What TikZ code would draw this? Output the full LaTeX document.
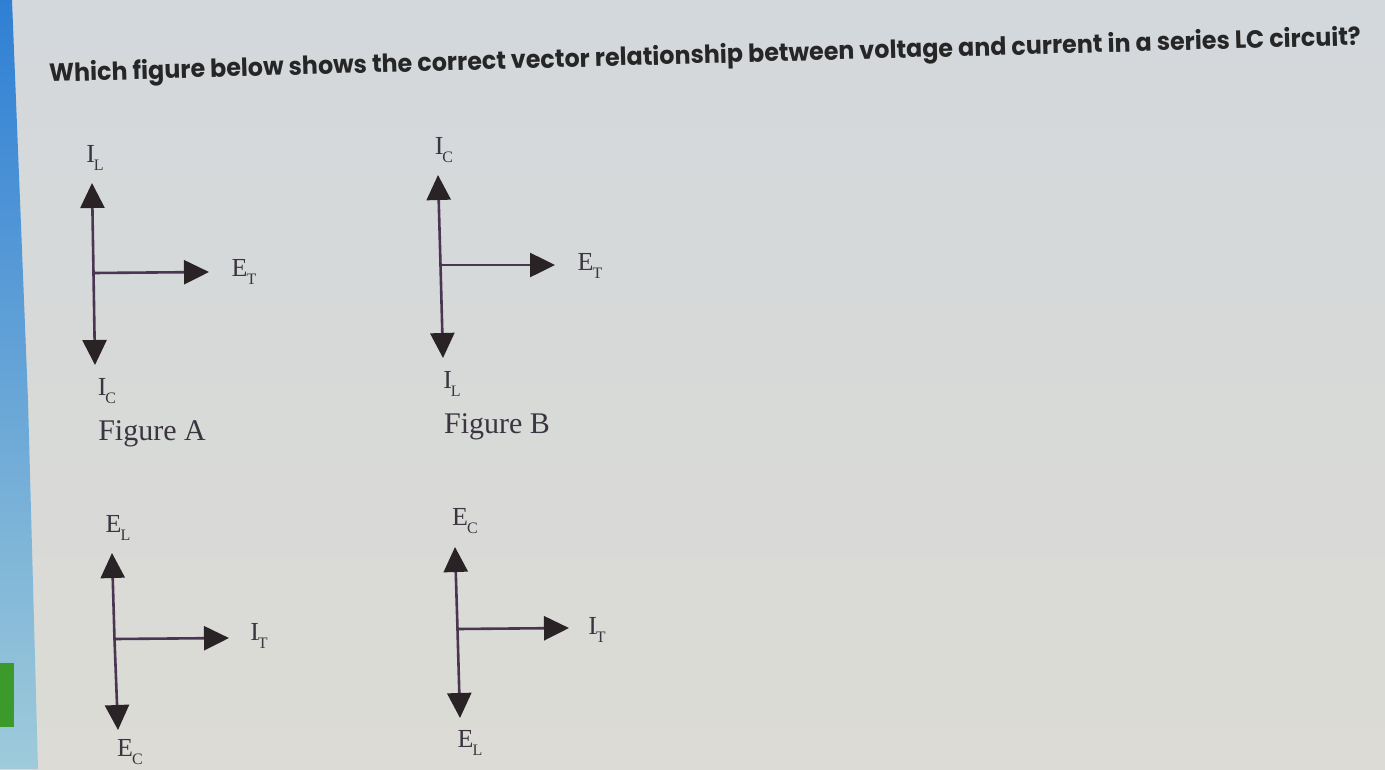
\documentclass[tikz,border=0pt]{standalone}
\usepackage{fontspec}
\usepackage{graphicx}
\setmainfont{Liberation Serif}
\newfontfamily\titlefont{Poppins}
\usetikzlibrary{arrows.meta}
\definecolor{bgtop}{HTML}{D3D8DC}
\definecolor{bgbot}{HTML}{DCDBD5}
\definecolor{stripA}{HTML}{2F7FD4}
\definecolor{stripB}{HTML}{9FCBDA}
\definecolor{greenblk}{HTML}{3C9A2A}
\definecolor{vecline}{HTML}{4A3652}
\definecolor{headcol}{HTML}{2A2326}
\definecolor{txt}{HTML}{3A3540}
\newcommand\vsub[2]{#1\kern-1pt\raisebox{-0.3em}{\fontsize{16}{16}\selectfont #2}}
\tikzset{
  vec/.style={draw=vecline, line width=2.6pt, -{Triangle[length=25pt,width=24pt,color=headcol]}},
  lbl/.style={text=txt, font=\fontsize{26}{26}\selectfont, inner sep=0pt},
  figlbl/.style={text=txt, font=\fontsize{30}{30}\selectfont, inner sep=0pt},
}
\begin{document}
\begin{tikzpicture}[x=1pt,y=-1pt]
\useasboundingbox (0,0) rectangle (1385,769);
% background
\shade[top color=bgtop, bottom color=bgbot] (0,0) rectangle (1385,769);
% left strip
\shade[top color=stripA, bottom color=stripB] (0,0) -- (12,0) -- (28,400) -- (38,769) -- (0,769) -- cycle;
\fill[greenblk] (0,663) rectangle (14,727);
% title
\node[rotate=1.6, inner sep=0pt, text=black!85] (title) at (705,57)
  {\resizebox{1312pt}{20pt}{\titlefont\bfseries Which figure below shows the correct vector relationship between voltage and current in a series LC circuit?}};

% Figure A
\coordinate (oA) at (93.5,273);
\coordinate (tA) at (92,183);
\coordinate (bA) at (95,365);
\coordinate (rA) at (209,272);
\draw[vec] (oA) -- (tA);
\draw[vec] (oA) -- (bA);
\draw[vec] (oA) -- (rA);
\node[lbl] (ILa) at (95,158) {\vsub{I}{L}};
\node[lbl] (ETa) at (244,272) {\vsub{E}{T}};
\node[lbl] (ICa) at (107,391) {\vsub{I}{C}};
\node[figlbl] (figA) at (152,434) {Figure A};

% Figure B
\coordinate (oB) at (440.5,265);
\coordinate (tB) at (438,175);
\coordinate (bB) at (443,358);
\coordinate (rB) at (555,265);
\draw[vec] (oB) -- (tB);
\draw[vec] (oB) -- (bB);
\draw[vec] (oB) -- (rB);
\node[lbl] (ICb) at (444,150) {\vsub{I}{C}};
\node[lbl] (ETb) at (590,266) {\vsub{E}{T}};
\node[lbl] (ILb) at (452,384) {\vsub{I}{L}};
\node[figlbl] (figB) at (497,427) {Figure B};

% Figure C
\coordinate (oC) at (114.5,639);
\coordinate (tC) at (112,553);
\coordinate (bC) at (118,730);
\coordinate (rC) at (229,638);
\draw[vec] (oC) -- (tC);
\draw[vec] (oC) -- (bC);
\draw[vec] (oC) -- (rC);
\node[lbl] (ELc) at (118,528) {\vsub{E}{L}};
\node[lbl] (ITc) at (259,636) {\vsub{I}{T}};
\node[lbl] (ECc) at (130,752) {\vsub{E}{C}};

% Figure D
\coordinate (oD) at (457.5,629);
\coordinate (tD) at (455,547);
\coordinate (bD) at (460,718);
\coordinate (rD) at (569,628);
\draw[vec] (oD) -- (tD);
\draw[vec] (oD) -- (bD);
\draw[vec] (oD) -- (rD);
\node[lbl] (ECd) at (465,521) {\vsub{E}{C}};
\node[lbl] (ITd) at (597,630) {\vsub{I}{T}};
\node[lbl] (ELd) at (470,743) {\vsub{E}{L}};
\end{tikzpicture}
\end{document}
